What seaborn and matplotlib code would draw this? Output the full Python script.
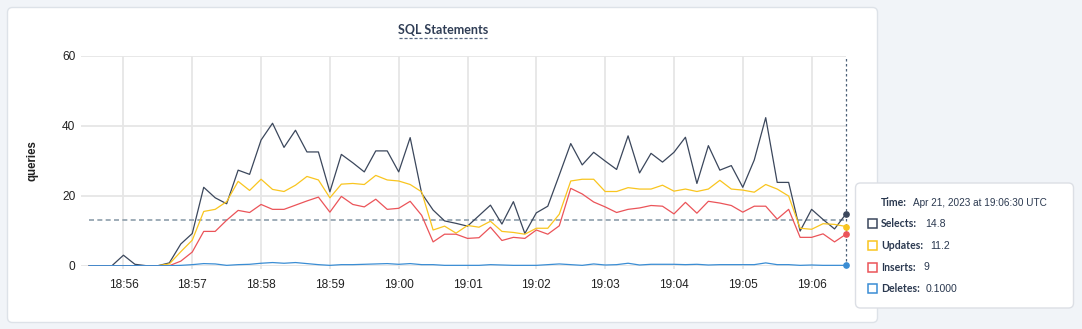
import numpy as np
import pandas as pd
import matplotlib
matplotlib.use("Agg")
import matplotlib.pyplot as plt
import matplotlib.dates as mdates
from matplotlib.patches import FancyBboxPatch, Rectangle
from matplotlib.transforms import IdentityTransform
import seaborn as sns

# ---------------- data ----------------
start_time = "2023-04-21 18:55:30"
end_time = "2023-04-21 19:06:30"
step = "10s"

selects = [0, 0, 0, 3, 0.4, 0, 0, 0.8, 6.2, 9.2,
           22.4, 19.4, 17.7, 27.3, 26.1, 35.9, 40.7, 33.8, 38.7, 32.5,
           32.5, 21.1, 31.8, 29.4, 26.8, 32.8, 32.8, 26.8, 36.6, 20.7,
           15.9, 12.8, 12.1, 11.3, 14.3, 17.3, 11.9, 18.3, 9.2, 15.1,
           17.0, 25.9, 34.9, 28.8, 32.4, 29.9, 27.5, 37.1, 26.5, 32.1,
           29.6, 32.4, 36.7, 23.5, 34.3, 27.3, 28.6, 22.4, 30.2, 42.3,
           23.8, 23.8, 9.9, 16.1, 13.2, 10.5, 14.8]
updates = [0, 0, 0, 0, 0, 0, 0, 0.5, 4.0, 7.3,
           15.5, 16.1, 18.3, 24.1, 21.5, 24.7, 21.8, 21.2, 23.0, 25.5,
           24.5, 19.4, 23.3, 23.5, 23.2, 25.8, 24.5, 24.2, 23.2, 21.1,
           10.2, 11.3, 9.3, 11.5, 11.0, 12.7, 9.8, 9.5, 9.0, 10.7,
           10.7, 14.7, 24.2, 24.7, 24.7, 21.2, 21.2, 22.3, 21.9, 21.9,
           23.0, 21.3, 21.9, 21.2, 21.9, 24.4, 21.9, 21.6, 21.0, 23.2,
           21.9, 19.9, 10.7, 10.4, 12.0, 11.8, 11.2]
inserts = [0, 0, 0, 0, 0, 0, 0, 0, 1.3, 3.9,
           9.8, 9.8, 13.0, 15.8, 15.2, 17.5, 16.1, 16.1, 17.3, 18.5,
           19.6, 15.3, 19.8, 17.5, 16.8, 19.0, 16.1, 16.4, 18.4, 14.4,
           6.8, 9.0, 9.0, 7.8, 8.0, 11.0, 7.2, 8.1, 7.8, 10.2,
           9.0, 11.4, 22.1, 20.5, 18.2, 16.8, 15.2, 16.1, 16.5, 17.2,
           17.0, 14.8, 18.1, 15.0, 18.4, 17.9, 17.2, 15.3, 17.0, 17.0,
           13.3, 16.1, 8.1, 8.1, 9.1, 6.8, 9.0]
deletes = [0, 0, 0, 0, 0, 0, 0, 0, 0.1, 0.3,
           0.6, 0.5, 0.1, 0.3, 0.4, 0.7, 0.9, 0.7, 0.9, 0.6,
           0.3, 0.1, 0.3, 0.3, 0.4, 0.5, 0.6, 0.4, 0.6, 0.3,
           0.3, 0.1, 0.1, 0.1, 0.1, 0.3, 0.2, 0.1, 0.1, 0.1,
           0.3, 0.5, 0.3, 0.1, 0.5, 0.2, 0.3, 0.7, 0.2, 0.4,
           0.4, 0.4, 0.3, 0.4, 0.2, 0.3, 0.3, 0.3, 0.3, 0.8,
           0.3, 0.3, 0.1, 0.2, 0.1, 0.1, 0.1]
series_names = ["Selects", "Updates", "Inserts", "Deletes"]
series_colors = ["#3b475c", "#f9c51f", "#eb5459", "#3a8dd4"]
reference_level = 13
y_ticks = [0, 20, 40, 60]
title = "SQL Statements"
y_label = "queries"
tooltip_time = "Apr 21, 2023 at 19:06:30 UTC"
tooltip_values = ["14.8", "11.2", "9", "0.1000"]

times = pd.date_range(start_time, end_time, freq=step)
frames = []
for name, vals in zip(series_names, [selects, updates, inserts, deletes]):
    frames.append(pd.DataFrame({"time": times, "queries": vals, "series": name}))
df = pd.concat(frames, ignore_index=True)
palette = dict(zip(series_names, series_colors))

# ---------------- figure ----------------
W, H = 1082, 329
fig = plt.figure(figsize=(W / 100, H / 100), dpi=100)
fig.patch.set_facecolor("#f1f4f8")

# white card (behind the axes)
card = FancyBboxPatch((7.5, H - 322.5), 870, 315,
                      boxstyle="round,pad=0,rounding_size=5",
                      transform=IdentityTransform(), facecolor="white",
                      edgecolor="#dde2e8", linewidth=1, zorder=-5)
fig.patches.append(card)

ax_l, ax_r, ax_t, ax_b = 81, 846, 55.7, 265.7
ax = fig.add_axes([ax_l / W, 1 - ax_b / H, (ax_r - ax_l) / W, (ax_b - ax_t) / H])
ax.set_facecolor("none")
ax.set_zorder(1)

sns.lineplot(data=df, x="time", y="queries", hue="series", hue_order=series_names,
             palette=palette, linewidth=0.9, legend=False, ax=ax, zorder=3)

t0, t1 = times[0], times[-1]
ax.set_xlim(t0 - pd.Timedelta(seconds=7), t1)
ax.set_ylim(0, 60)
ax.set_yticks(y_ticks)
ax.xaxis.set_major_locator(mdates.MinuteLocator())
ax.xaxis.set_major_formatter(mdates.DateFormatter("%H:%M"))
ax.grid(True, color="#e6e6e6", linewidth=1.3, zorder=0)
ax.set_axisbelow(True)
for s in ax.spines.values():
    s.set_visible(False)
ax.tick_params(axis="x", length=2.5, color="#e6e6e6", width=1.3, pad=7,
               labelsize=8.6, labelcolor="#222222")
ax.tick_params(axis="y", length=0, pad=4, labelsize=8.6, labelcolor="#222222")
for lab in ax.get_xticklabels() + ax.get_yticklabels():
    lab.set_fontfamily("Liberation Sans")
ax.set_xlabel("")
ax.set_ylabel(y_label, fontsize=8.3, fontweight="bold", color="#222222",
              fontfamily="Liberation Sans")
ax.yaxis.set_label_coords(-(ax_l - 38) / (ax_r - ax_l), 0.5)

# reference line and hover line
ax.hlines(reference_level, t0, t1, colors="#8d9eab", linestyles=(0, (3, 2)),
          linewidth=1.2, zorder=2)
ax.vlines(t1, 0, 60, colors="#4d6078", linestyles=(0, (2, 2)), linewidth=0.9,
          zorder=2, clip_on=False)
last_vals = [selects[-1], updates[-1], inserts[-1], deletes[-1]]
for v, c in zip(last_vals, series_colors):
    ax.plot([t1], [v], "o", color=c, markersize=3.8, zorder=5, clip_on=False)

# title with dashed underline
fig.text(443 / W, 1 - 30.5 / H, title, ha="center", va="center", fontsize=9,
         fontweight="bold", color="#2f3d55", fontfamily="Lato")
fig.add_artist(plt.Line2D([399 / W, 487 / W], [1 - 38.3 / H, 1 - 38.3 / H],
                          transform=fig.transFigure, color="#5a6b85",
                          linewidth=0.9, linestyle=(0, (2.5, 1.5))))

# tooltip
tip = FancyBboxPatch((855.5, H - 308), 218, 125,
                     boxstyle="round,pad=0,rounding_size=5",
                     transform=IdentityTransform(), facecolor="white",
                     edgecolor="#dcdfe5", linewidth=1, zorder=5)
fig.patches.append(tip)
navy = "#2b3950"
fig.text(881 / W, 1 - 202.5 / H, "Time:", ha="left", va="center", fontsize=7.6,
         fontweight="bold", color=navy, fontfamily="Lato", zorder=6)
fig.text(913 / W, 1 - 202.5 / H, tooltip_time, ha="left", va="center",
         fontsize=7.2, color=navy, fontfamily="Liberation Sans", zorder=6)
row_y = [223.7, 245.7, 267.3, 288.7]
val_x = [925, 930, 923, 926]
for name, c, y, vx, val in zip(series_names, series_colors, row_y, val_x, tooltip_values):
    fig.patches.append(Rectangle((868, H - y - 4.5), 9, 9, transform=IdentityTransform(),
                                 facecolor="white", edgecolor=c, linewidth=1.1, zorder=6))
    fig.text(881 / W, 1 - y / H, name + ":", ha="left", va="center", fontsize=7.6,
             fontweight="bold", color=navy, fontfamily="Lato", zorder=6)
    fig.text(vx / W, 1 - y / H, val, ha="left", va="center", fontsize=7.6,
             color=navy, fontfamily="Liberation Sans", zorder=6)

fig.savefig("out.png", dpi=100, facecolor=fig.get_facecolor())
